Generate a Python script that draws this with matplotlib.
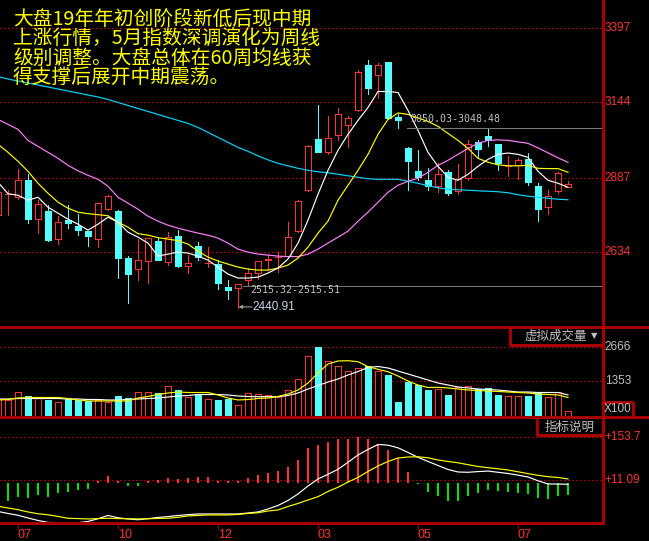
import numpy as np
import matplotlib
matplotlib.use('Agg')
import matplotlib.pyplot as plt
from matplotlib.patches import Rectangle
from matplotlib.transforms import blended_transform_factory as blend

plt.rcParams['font.family'] = ['Noto Sans CJK SC', 'DejaVu Sans']

# ---------------- data (weekly bars) ----------------
weeks = np.arange(-1, 57)
opens = [2760.8, 2830.5, 2820.9, 2877.8, 2743.8, 2772.1, 2677.6, 2741.4, 2720.9, 2703.9,
         2677.6, 2779.9, 2772.1, 2611.8, 2573.3, 2601.6, 2669.8, 2599.2, 2686.8, 2585.6,
         2652.7, 2594.8, 2590.3, 2511.9, 2510.1, 2536.8, 2559.6, 2606.4, 2615.3, 2619.7,
         2704.9, 2846.1, 3020.0, 2974.3, 3033.6, 3065.4, 3118.9, 3273.4, 3238.2, 3281.2,
         3092.6, 2986.9, 2909.5, 2877.8, 2857.3, 2905.1, 2841.3, 2885.6, 3008.4, 3027.8,
         3000.6, 2925.6, 2928.9, 2949.4, 2857.3, 2786.8, 2841.3, 2855.0]
highs = [2840.0, 2843.7, 2917.7, 2900.6, 2809.6, 2794.9, 2756.1, 2794.9, 2761.9, 2703.9,
         2801.8, 2829.0, 2775.5, 2618.6, 2677.6, 2680.0, 2684.4, 2700.5, 2707.3, 2622.1,
         2667.4, 2650.3, 2605.0, 2536.8, 2522.7, 2576.7, 2602.6, 2625.5, 2633.3, 2733.6,
         2810.0, 2999.5, 3133.6, 3096.0, 3125.7, 3097.1, 3255.3, 3289.4, 3277.8, 3283.6,
         3105.3, 2990.0, 2979.6, 2919.7, 2938.2, 2914.3, 2932.4, 3014.2, 3016.6, 3051.7,
         3000.6, 2959.6, 2955.2, 2970.9, 2868.6, 2846.1, 2906.1, 2874.4]
lows = [2755.0, 2758.5, 2813.0, 2732.2, 2698.1, 2670.8, 2659.6, 2715.1, 2690.3, 2652.7,
        2650.3, 2777.9, 2544.6, 2457.3, 2536.8, 2527.6, 2605.0, 2588.0, 2582.2, 2561.7,
        2605.0, 2582.2, 2505.1, 2471.0, 2440.91, 2515.4, 2539.2, 2570.9, 2565.2, 2619.7,
        2700.0, 2840.0, 2974.3, 2966.5, 3016.6, 2991.4, 3115.0, 3173.4, 3159.8, 3088.0,
        3057.5, 2846.1, 2877.8, 2846.1, 2837.9, 2829.0, 2832.4, 2880.2, 2955.2, 2994.8,
        2911.9, 2891.4, 2883.6, 2860.7, 2739.0, 2761.9, 2834.5, 2855.0]
closes = [2836.9, 2832.4, 2877.8, 2745.8, 2798.4, 2673.2, 2733.6, 2732.2, 2707.3, 2687.9,
          2801.8, 2825.6, 2612.8, 2558.3, 2604.0, 2680.0, 2605.0, 2682.4, 2585.6, 2593.7,
          2614.2, 2595.8, 2525.5, 2502.7, 2522.7, 2559.6, 2601.6, 2607.4, 2616.3, 2684.4,
          2807.2, 2994.8, 2974.3, 3022.0, 3105.3, 3091.6, 3249.5, 3193.9, 3273.4, 3090.2,
          3084.8, 2943.6, 2889.0, 2858.3, 2900.6, 2834.5, 2883.6, 3002.9, 2983.5, 3016.6,
          2936.8, 2926.6, 2948.4, 2872.0, 2779.9, 2824.3, 2902.7, 2866.6]

ma5 = [2871.0, 2831.8, 2826.6, 2809.6, 2819.8, 2785.7, 2765.3, 2744.8, 2727.8, 2707.3,
       2727.8, 2751.6, 2734.6, 2700.5, 2683.4, 2663.0, 2618.6, 2625.5, 2632.3, 2628.9,
       2618.6, 2605.0, 2581.1, 2557.3, 2543.6, 2543.6, 2547.0, 2560.7, 2577.7, 2608.4,
       2663.0, 2741.4, 2830.1, 2911.9, 2980.1, 3034.7, 3082.4, 3126.7, 3181.3, 3181.3,
       3177.9, 3116.5, 3048.3, 2973.3, 2925.5, 2888.0, 2877.8, 2898.3, 2925.5, 2949.4,
       2966.5, 2970.9, 2966.5, 2956.2, 2908.5, 2877.8, 2867.6, 2853.9]
ma10 = [3000.6, 2973.3, 2942.6, 2908.5, 2867.6, 2833.5, 2802.8, 2782.3, 2768.7, 2763.6,
        2760.2, 2756.7, 2734.6, 2717.5, 2695.4, 2690.2, 2681.7, 2676.6, 2671.5, 2659.6,
        2635.7, 2615.2, 2601.6, 2591.4, 2581.1, 2574.3, 2570.9, 2570.9, 2577.7, 2587.9,
        2611.8, 2649.3, 2697.1, 2738.0, 2809.6, 2860.7, 2911.9, 2966.5, 3034.7, 3085.8,
        3108.0, 3102.9, 3090.9, 3079.0, 3061.9, 3038.1, 3014.2, 2986.9, 2952.8, 2939.2,
        2930.7, 2927.2, 2927.2, 2928.9, 2918.7, 2917.7, 2917.7, 2905.1]
ma20 = [3085.8, 3068.8, 3051.7, 3014.2, 2993.7, 2973.3, 2952.8, 2928.9, 2910.2, 2894.8,
        2881.2, 2857.3, 2819.8, 2799.4, 2778.9, 2755.0, 2738.0, 2724.3, 2714.1, 2705.6,
        2697.1, 2690.2, 2680.0, 2663.0, 2642.5, 2632.3, 2625.5, 2622.0, 2618.6, 2616.9,
        2616.9, 2625.5, 2642.5, 2663.0, 2683.4, 2703.9, 2738.0, 2768.7, 2802.8, 2836.9,
        2860.7, 2874.4, 2884.6, 2905.1, 2928.9, 2946.0, 2966.5, 2986.9, 3004.0, 3014.2,
        3015.9, 3014.2, 3009.1, 3004.0, 2988.6, 2971.6, 2954.5, 2939.2]
ma60 = [3232.4, 3223.9, 3217.1, 3210.3, 3203.5, 3196.6, 3189.8, 3183.0, 3176.2, 3169.4,
        3162.5, 3154.0, 3143.8, 3133.5, 3123.3, 3113.1, 3102.9, 3092.6, 3082.4, 3072.2,
        3058.5, 3041.5, 3024.4, 3007.4, 2990.3, 2976.7, 2961.3, 2947.7, 2935.8, 2927.2,
        2918.7, 2911.9, 2906.8, 2903.4, 2898.3, 2893.1, 2888.0, 2882.9, 2881.2, 2881.2,
        2881.2, 2874.4, 2867.6, 2859.0, 2852.2, 2847.1, 2845.4, 2843.7, 2842.0, 2840.3,
        2838.6, 2835.2, 2828.4, 2823.2, 2819.8, 2816.4, 2813.0, 2811.3]

volume = [668, 629, 927, 784, 718, 629, 541, 668, 629, 591, 629, 541, 784, 695, 927, 927,
          888, 1159, 1016, 734, 861, 657, 629, 680, 425, 888, 850, 811, 757, 1004, 1429,
          2317, 2676, 2124, 1943, 1738, 1854, 1954, 1749, 1595, 552, 1325, 1209, 1016,
          1054, 823, 1120, 1170, 1054, 1081, 823, 772, 772, 784, 911, 734, 927, 205]
vol_ma_fast = [630, 649, 707, 726, 726, 726, 726, 687, 630, 591, 591, 591, 591, 591, 707,
               765, 842, 900, 938, 919, 919, 919, 823, 707, 630, 649, 687, 707, 765, 861,
               1016, 1286, 1672, 2020, 2136, 2147, 2109, 1916, 1815, 1722, 1556, 1363, 1209,
               1112, 1120, 1093, 1054, 1016, 996, 977, 958, 938, 919, 900, 861, 842, 823, 726]
vol_ma_slow = [668, 668, 687, 687, 687, 687, 687, 668, 668, 649, 649, 630, 630, 649, 668,
               687, 707, 745, 784, 803, 842, 842, 842, 823, 784, 765, 757, 757, 757, 803,
               900, 1054, 1189, 1325, 1441, 1595, 1730, 1885, 1923, 1865, 1749, 1634, 1518,
               1402, 1286, 1209, 1132, 1093, 1054, 1035, 1016, 977, 938, 938, 919, 919, 919, 823]

macd_hist = [-60, -58.1, -43.9, -47.2, -38.3, -43.9, -32.7, -27.4, -21.8, -17.5, 8.9, 25.4,
             8.9, -8.6, -8.6, 8.9, 11.2, 18.8, 14.5, 16.8, 20.1, 22.1, 8.9, 8.9, 8.9, 16.8,
             27.7, 33.3, 40.9, 55.1, 77.2, 115.8, 126.7, 137.6, 146.5, 146.5, 152.1, 146.5,
             126.7, 110.2, 82.8, 36.6, -0.7, -27.4, -41.6, -58.1, -58.1, -41.6, -30.7, -21.8,
             -25.1, -29.4, -32.7, -36.0, -49.2, -51.5, -41.6, -38.3]
dif = [-92.7, -99.3, -105.3, -114.2, -122.4, -129.0, -129.4, -129.7, -129.7, -125.7, -116.8,
       -105.9, -113.5, -117.5, -120.1, -116.5, -112.5, -109.6, -105.9, -103.3, -101.0, -101.0,
       -101.0, -101.0, -101.0, -97.7, -94.4, -84.5, -72.9, -56.4, -35.0, -8.6, 14.5, 30.0,
       46.5, 69.6, 93.7, 111.9, 128.4, 126.1, 117.5, 102.0, 86.1, 72.3, 59.1, 45.9, 37.6,
       36.6, 38.9, 40.6, 36.6, 32.7, 27.1, 21.1, 8.6, -2.0, -2.3, -3.0]
dea = [-75.6, -81.2, -86.8, -94.4, -100.3, -103.6, -109.2, -115.2, -116.2, -117.5, -116.2,
       -115.2, -116.2, -116.8, -117.5, -116.8, -115.8, -115.2, -111.9, -107.6, -105.9, -104.3,
       -104.3, -104.3, -102.6, -99.3, -97.0, -91.1, -87.8, -76.2, -66.3, -54.8, -43.9, -26.7,
       -12.9, 4.6, 19.5, 39.3, 57.4, 72.3, 83.8, 87.1, 87.8, 84.5, 77.2, 72.3, 68.0, 61.7,
       55.8, 51.8, 48.2, 44.2, 38.3, 32.3, 26.7, 22.1, 19.5, 14.5]

price_ticks = [3397, 3144, 2887, 2634]
vol_ticks = [2666, 1353]
macd_ticks = [153.7, 11.09]
macd_tick_labels = ['+153.7', '+11.09']
month_ticks = [1, 11, 21, 31, 41, 51]
month_labels = ['07', '10', '12', '03', '05', '07']
gap_bars = [24, 39]
gap_labels = ['2515.32-2515.51', '3050.03-3048.48']
low_bar = 23
low_label = '2440.91'
title_lines = ['大盘19年年初创阶段新低后现中期',
               '上涨行情，5月指数深调演化为周线',
               '级别调整。大盘总体在60周均线获',
               '得支撑后展开中期震荡。']

# ---------------- style ----------------
UP = '#ff3232'
DOWN = '#54fcfc'
GREEN = '#00e600'
FRAME = '#a80000'
GRID = '#a00000'
GRAY = '#c0c0c0'
NUMF = 'Liberation Sans'
PX = 0.72  # one pixel in points

W, H = 649, 541
fig = plt.figure(figsize=(W / 100, H / 100), dpi=100, facecolor='black')
XR = 603


def rect(top, bottom):
    return [0, 1 - bottom / H, XR / W, (bottom - top) / H]


ax_p = fig.add_axes(rect(0, 326.5))
ax_v = fig.add_axes(rect(326.5, 416.3))
ax_m = fig.add_axes(rect(416.7, 523.3))
for ax in (ax_p, ax_v, ax_m):
    ax.set_facecolor('black')
    ax.set_xlim(-0.8, 59.5)
    for s in ax.spines.values():
        s.set_visible(False)
    ax.set_yticks([])
    ax.set_xticks([])

ax_p.set_ylim(2378, 3494)
ax_v.set_ylim(0, 3468)
ax_m.set_ylim(-131.8, 220.1)

dots = (0, (1, 2.5))
for v in price_ticks:
    ax_p.axhline(v, color=GRID, lw=0.75, ls=dots, zorder=0, antialiased=False)
for v in vol_ticks:
    ax_v.axhline(v, color=GRID, lw=0.75, ls=dots, zorder=0, antialiased=False)
for v in macd_ticks:
    ax_m.axhline(v, color=GRID, lw=0.75, ls=dots, zorder=0, antialiased=False)

# ---------------- candles ----------------
bw = 0.66
for k, o, h, l, c in zip(weeks, opens, highs, lows, closes):
    up = c >= o
    col = UP if up else DOWN
    top, bot = max(o, c), min(o, c)
    if up:
        if h > top:
            ax_p.vlines(k, top, h, color=col, lw=PX, antialiased=False, zorder=3)
        if l < bot:
            ax_p.vlines(k, l, bot, color=col, lw=PX, antialiased=False, zorder=3)
        ax_p.add_patch(Rectangle((k - bw / 2, bot), bw, max(top - bot, 0.01),
                                 facecolor='black', edgecolor=col, lw=PX,
                                 antialiased=False, zorder=3))
    else:
        ax_p.vlines(k, l, h, color=col, lw=PX, antialiased=False, zorder=3)
        ax_p.add_patch(Rectangle((k - bw / 2, bot), bw, max(top - bot, 0.01),
                                 facecolor=col, edgecolor=col, lw=PX,
                                 antialiased=False, zorder=3))

ax_p.plot(weeks, ma60, color='#00d8ff', lw=0.85, zorder=4)
ax_p.plot(weeks, ma20, color='#ff80ff', lw=0.85, zorder=4)
ax_p.plot(weeks, ma10, color='#ffff00', lw=0.85, zorder=4)
ax_p.plot(weeks, ma5, color='#ffffff', lw=0.85, zorder=4)

# gap annotations
for b, lab in zip(gap_bars, gap_labels):
    lv = lows[list(weeks).index(b)]
    x0 = b - 0.5 if b == 24 else b + 0.9
    ax_p.plot([x0, 59.5], [lv, lv], color='#7a7a7a', lw=PX, zorder=5, antialiased=False)
    if b == 24:
        ax_p.text(b + 0.27, lv - 13, lab, color=GRAY, fontsize=7.2,
                  family='DejaVu Sans Mono', va='center', ha='left', zorder=6)
    else:
        ax_p.text(b + 1.2, lv + 30, lab, color=GRAY, fontsize=7.2,
                  family='DejaVu Sans Mono', va='center', ha='left', zorder=6)

lowv = lows[list(weeks).index(low_bar)]
ax_p.annotate('', xy=(low_bar + 0.05, lowv + 4), xytext=(low_bar + 1.4, lowv + 4),
              arrowprops=dict(arrowstyle='-|>', color='#a0a0a0', lw=0.8,
                              shrinkA=0, shrinkB=0, mutation_scale=5), zorder=6)
ax_p.text(low_bar + 1.47, lowv + 4, low_label, color='#c8d4e8', fontsize=8.5,
          family=NUMF, va='center', ha='left', zorder=6)

# ---------------- volume ----------------
vw = 0.68
for k, o, c, v in zip(weeks, opens, closes, volume):
    up = c >= o
    col = UP if up else DOWN
    ax_v.add_patch(Rectangle((k - vw / 2, 0), vw, v, facecolor='black' if up else col,
                             edgecolor=col, lw=PX, antialiased=False, zorder=2))
ax_v.plot(weeks, vol_ma_slow, color='#ffffff', lw=0.85, zorder=3)
ax_v.plot(weeks, vol_ma_fast, color='#ffff00', lw=0.85, zorder=3)

# ---------------- MACD ----------------
hcols = [UP if v > 0 else GREEN for v in macd_hist]
ax_m.vlines(weeks, 0, macd_hist, colors=hcols, lw=1.1, antialiased=False, zorder=2)
ax_m.plot(weeks, dif, color='#ffffff', lw=0.85, zorder=3)
ax_m.plot(weeks, dea, color='#ffff00', lw=0.85, zorder=3)

ax_m.set_xticks(month_ticks)
ax_m.set_xticklabels(month_labels, ha='left', family=NUMF, fontsize=9, color=UP)
ax_m.tick_params(axis='x', direction='out', length=4, width=0.8, color=FRAME, pad=0)

# right axis labels
for ax, vals, labs, col in ((ax_p, price_ticks, [str(v) for v in price_ticks], UP),
                            (ax_v, vol_ticks, [str(v) for v in vol_ticks], GRAY),
                            (ax_m, macd_ticks, macd_tick_labels, UP)):
    tr = blend(ax.transAxes, ax.transData)
    for v, s in zip(vals, labs):
        ax.text(1.003, v, s, transform=tr, color=col, fontsize=8.5, family=NUMF,
                va='center', ha='left', clip_on=False)

# ---------------- overlay: frames, boxes, title ----------------
ov = fig.add_axes([0, 0, 1, 1])
ov.set_xlim(0, W)
ov.set_ylim(H, 0)
ov.axis('off')
ov.patch.set_alpha(0)

ov.plot([XR, XR], [0, 523.3], color=FRAME, lw=1.0, antialiased=False)
ov.plot([0, W], [326.5, 326.5], color=FRAME, lw=1.0, antialiased=False)
ov.plot([0, W], [416.7, 416.7], color=FRAME, lw=1.0, antialiased=False)
ov.plot([0, XR], [523.3, 523.3], color=FRAME, lw=1.0, antialiased=False)

ov.add_patch(Rectangle((510, 326.5), XR - 510, 18.5, facecolor='black', edgecolor=FRAME,
                       lw=1.0, antialiased=False))
ov.text(524, 336.5, '虚拟成交量', color=GRAY, fontsize=9, va='center', ha='left')
ov.text(594.5, 336, '▼', color=GRAY, fontsize=6, va='center', ha='center',
        family=['DejaVu Sans'])

ov.add_patch(Rectangle((537, 416.7), XR - 537, 18.5, facecolor='black', edgecolor=FRAME,
                       lw=1.0, antialiased=False))
ov.text(544.5, 427, '指标说明', color=GRAY, fontsize=9, va='center', ha='left')

ov.add_patch(Rectangle((XR, 402), 29.5, 14.7, facecolor='black', edgecolor=FRAME,
                       lw=1.0, antialiased=False))
ov.text(617.8, 409.5, 'X100', color=GRAY, fontsize=8.5, family=NUMF,
        va='center', ha='center')

for i, line in enumerate(title_lines):
    ov.text(13, 20.5 + 19 * i, line, color='#ffff00', fontsize=14.2, va='center', ha='left')

fig.savefig('out.png', dpi=100, facecolor='black')
